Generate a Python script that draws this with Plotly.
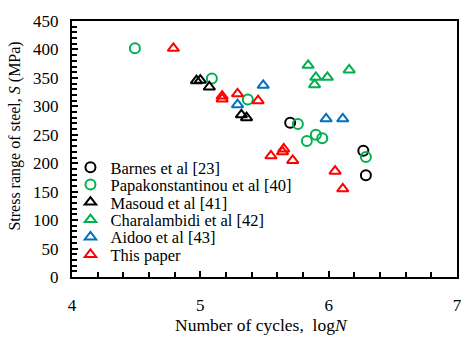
import plotly.graph_objects as go

# Fatigue test data: log of cycles to failure vs. steel stress range (MPa)
barnes_logN = [5.70, 6.27, 6.29]
barnes_S = [271, 222, 179]

papa_logN = [4.49, 5.09, 5.37, 5.76, 5.83, 5.90, 5.95, 6.29]
papa_S = [402, 349, 312, 269, 239, 250, 244, 211]

masoud_logN = [4.97, 5.00, 5.07, 5.32, 5.36]
masoud_S = [345, 346, 334, 285, 280]

chara_logN = [5.84, 5.90, 5.99, 5.89, 6.16]
chara_S = [372, 351, 351, 338, 364]

aidoo_logN = [5.49, 5.29, 5.98, 6.11]
aidoo_S = [337, 303, 278, 278]

this_logN = [4.79, 5.17, 5.17, 5.29, 5.45, 5.55, 5.64, 5.65, 5.72, 6.05, 6.11]
this_S = [402, 318, 313, 322, 310, 213, 220, 225, 205, 186, 155]

series = [
    ("Barnes et al [23]", barnes_logN, barnes_S, "circle-open", "#000000"),
    ("Papakonstantinou et al [40]", papa_logN, papa_S, "circle-open", "#00B050"),
    ("Masoud et al [41]", masoud_logN, masoud_S, "triangle-up-open", "#000000"),
    ("Charalambidi et al [42]", chara_logN, chara_S, "triangle-up-open", "#00B050"),
    ("Aidoo et al [43]", aidoo_logN, aidoo_S, "triangle-up-open", "#0070C0"),
    ("This paper", this_logN, this_S, "triangle-up-open", "#FF0000"),
]

font_family = "Liberation Serif"

fig = go.Figure()
legend_layout = {}
for i, (name, xs, ys, sym, col) in enumerate(series):
    # one single-entry legend per series so the rows can sit tightly stacked
    key = "legend" if i == 0 else f"legend{i + 1}"
    fig.add_trace(go.Scatter(
        x=xs, y=ys, mode="markers", name=name, legend=key,
        marker=dict(symbol=sym, size=10, color=col, line=dict(width=2, color=col)),
    ))
    legend_layout[key] = dict(
        x=-0.004, y=0.428 - i * 0.0682, xanchor="left", yanchor="middle",
        bgcolor="rgba(0,0,0,0)", font=dict(family=font_family, size=16.5),
        itemwidth=30,
    )

fig.update_layout(
    width=474, height=338,
    margin=dict(l=72, r=15, t=13, b=61),
    paper_bgcolor="white", plot_bgcolor="white",
    font=dict(family=font_family, size=17, color="black"),
    showlegend=True,
    **legend_layout,
    xaxis=dict(
        range=[4, 7], dtick=1, showgrid=False, zeroline=False,
        showline=True, linecolor="black", linewidth=2, mirror=True,
        ticks="inside", ticklen=6, tickcolor="black", tickwidth=2,
        minor=dict(dtick=0.2, ticks="inside", ticklen=5, tickcolor="black", tickwidth=2),
        tickfont=dict(family=font_family, size=17),
        ticklabelstandoff=12,
    ),
    yaxis=dict(
        range=[0, 450], dtick=50, showgrid=False, zeroline=False,
        showline=True, linecolor="black", linewidth=2, mirror=True,
        ticks="inside", ticklen=6, tickcolor="black", tickwidth=2,
        minor=dict(dtick=10, ticks="inside", ticklen=5, tickcolor="black", tickwidth=2),
        tickfont=dict(family=font_family, size=17),
        ticklabelstandoff=8,
    ),
    annotations=[
        dict(text="Number of cycles,&nbsp; log<i>N</i>", xref="paper", yref="paper",
             x=0.491, y=-0.189, xanchor="center", yanchor="middle", showarrow=False,
             font=dict(family=font_family, size=17.5)),
        dict(text="Stress range of steel, <i>S</i> (MPa)", xref="paper", yref="paper",
             x=-0.147, y=0.55, xanchor="center", yanchor="middle", showarrow=False,
             textangle=-90, font=dict(family=font_family, size=16)),
    ],
)

fig.write_html("out.html")
